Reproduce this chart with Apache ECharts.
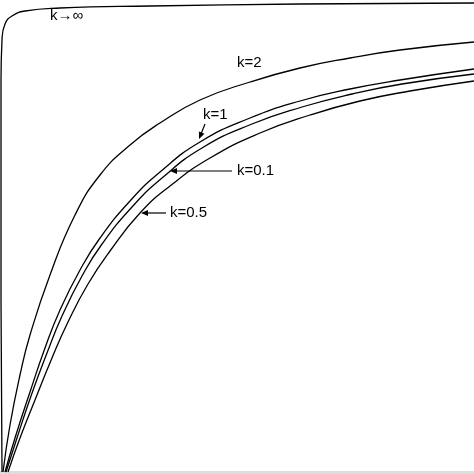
<!DOCTYPE html>
<html><head><meta charset="utf-8">
<script src="https://cdn.jsdelivr.net/npm/echarts@6/dist/echarts.min.js"></script>
<style>html,body{margin:0;background:#fff}#main{width:474px;height:474px}</style>
</head><body><div id="main"></div>
<script>
var kInf = [[2,472],[1,300],[1,80],[2,40],[5,24],[12,16],[25,11],[60,8],[150,6],[300,4],[474,3]];
var k2 = [[3,472],[10,425],[20,375],[30,335],[50,275],[75,215],[100,175],[130,145],[160,123],[200,100],[250,82],[300,68],[350,58],[400,50],[474,42]];
var k1 = [[5,472],[15,438],[30,392],[45,348],[60,310],[80,270],[100,238],[130,201],[160,172],[200,142],[250,118],[300,101],[350,89],[400,80],[474,69]];
var k01 = [[6,472],[16,441],[31,396],[47,353],[62,316],[82,276],[102,244],[132,207],[162,178],[202,148],[252,124],[302,107],[352,94],[402,84],[474,74]];
var k05 = [[8,472],[20,438],[35,400],[52,358],[68,322],[88,284],[110,251],[140,213],[170,186],[210,158],[260,133],[310,115],[360,101],[410,91],[474,81]];

function curve(d){return {type:'line',data:d,smooth:0.5,symbol:'none',lineStyle:{color:'#000',width:1.3}};}
function arrow(x1,y1,x2,y2){
  return {type:'line',shape:{x1:x1,y1:y1,x2:x2,y2:y2},style:{stroke:'#000',lineWidth:1.2}};
}
function head(x,y,ang){
  return {type:'polygon',x:x,y:y,rotation:ang,shape:{points:[[0,0],[7,-3],[7,3]]},style:{fill:'#000'}};
}
var font = '15px "Liberation Sans", Arial, sans-serif';
function label(t,x,y){return {type:'text',x:x,y:y,style:{text:t,font:font,fill:'#000'}};}

var chart = echarts.init(document.getElementById('main'));
chart.setOption({
  animation:false,
  grid:{left:0,right:0,top:0,bottom:0},
  xAxis:{type:'value',min:0,max:474,show:false},
  yAxis:{type:'value',min:0,max:474,inverse:true,show:false},
  series:[curve(kInf),curve(k2),curve(k1),curve(k01),curve(k05)],
  graphic:[
    {type:'rect',shape:{x:0,y:471,width:474,height:3},style:{fill:'#ddd'}},
    label('k\u2192\u221e',50,8),
    label('k=2',237,55),
    label('k=1',203,107),
    label('k=0.1',237,163),
    label('k=0.5',170,205),
    arrow(205,124,201,134), head(199,139,1.18),
    arrow(232,171,174,171), head(170,171,0),
    arrow(166,213,146,213), head(141,213,0)
  ]
});
</script></body></html>
